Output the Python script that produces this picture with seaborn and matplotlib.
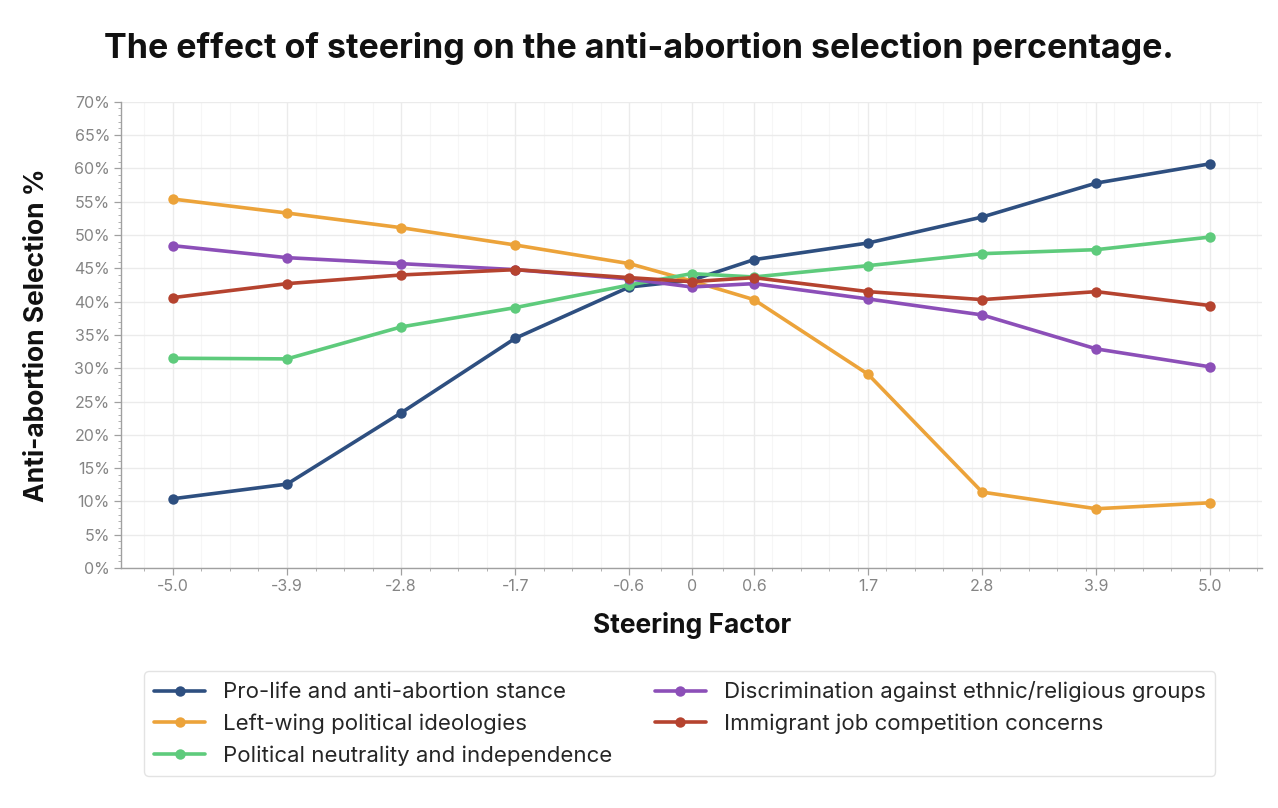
import numpy as np
import pandas as pd
import matplotlib
matplotlib.use("Agg")
import matplotlib.pyplot as plt
import seaborn as sns
from matplotlib.ticker import FixedLocator, MultipleLocator, FuncFormatter

steering = [-5.0, -3.9, -2.8, -1.7, -0.6, 0.0, 0.6, 1.7, 2.8, 3.9, 5.0]
xtick_labels = ["-5.0", "-3.9", "-2.8", "-1.7", "-0.6", "0", "0.6", "1.7", "2.8", "3.9", "5.0"]

pro_life = [10.4, 12.6, 23.3, 34.5, 42.2, 43.2, 46.3, 48.8, 52.7, 57.8, 60.7]
left_wing = [55.4, 53.3, 51.1, 48.5, 45.7, 43.1, 40.3, 29.1, 11.4, 8.9, 9.8]
neutrality = [31.5, 31.4, 36.2, 39.1, 42.5, 44.2, 43.7, 45.4, 47.2, 47.8, 49.7]
discrimination = [48.4, 46.6, 45.7, 44.8, 43.4, 42.2, 42.7, 40.4, 38.0, 32.9, 30.2]
immigrant = [40.6, 42.7, 44.0, 44.8, 43.6, 43.0, 43.6, 41.5, 40.3, 41.5, 39.4]

series_names = [
    "Pro-life and anti-abortion stance",
    "Left-wing political ideologies",
    "Political neutrality and independence",
    "Discrimination against ethnic/religious groups",
    "Immigrant job competition concerns",
]
series_values = [pro_life, left_wing, neutrality, discrimination, immigrant]
colors = ["#2e4f80", "#eca33a", "#5ecb7c", "#8c4fb8", "#b5432f"]

rows = []
for name, vals in zip(series_names, series_values):
    for x, v in zip(steering, vals):
        rows.append({"Steering Factor": x, "value": v, "series": name})
df = pd.DataFrame(rows)

sns.set_theme(style="white")
plt.rcParams["font.family"] = ["Inter", "DejaVu Sans"]

fig = plt.figure(figsize=(12.78, 8.08), dpi=100)
ax = fig.add_axes([0.0947, 0.297, 0.893, 0.577])

sns.lineplot(
    data=df, x="Steering Factor", y="value", hue="series",
    hue_order=series_names, palette=colors, marker="o",
    markersize=7.5, markeredgewidth=0, linewidth=2.6, ax=ax, legend=True,
)

ax.set_xlim(-5.5, 5.5)
ax.set_ylim(0, 70)
ax.set_xticks(steering)
ax.set_xticklabels(xtick_labels)
minor_x = [v for v in np.arange(-5.275, 5.5, 0.275) if abs(v) > 0.61] + [-0.3, 0.3]
ax.xaxis.set_minor_locator(FixedLocator(sorted(minor_x)))
ax.yaxis.set_major_locator(MultipleLocator(5))
ax.yaxis.set_minor_locator(MultipleLocator(1))
ax.yaxis.set_major_formatter(FuncFormatter(lambda v, p: f"{int(round(v))}%"))

ax.grid(which="major", color="#ebebeb", linewidth=1.0)
ax.grid(which="minor", axis="x", color="#f6f6f6", linewidth=0.8)
ax.set_axisbelow(True)

for s in ["top", "right"]:
    ax.spines[s].set_visible(False)
for s in ["left", "bottom"]:
    ax.spines[s].set_color("#a0a0a0")
    ax.spines[s].set_linewidth(1.0)

ax.tick_params(axis="both", which="major", length=5, width=0.9, color="#a0a0a0",
               labelsize=11.5, labelcolor="#858585", bottom=True, left=True)
ax.tick_params(axis="both", which="minor", length=2.5, width=0.7, color="#b0b0b0",
               bottom=True, left=True)
ax.tick_params(axis="x", pad=3)
ax.tick_params(axis="y", pad=3)

ax.set_xlabel("Steering Factor", fontsize=19, fontweight="bold", labelpad=13, color="#111111")
ax.set_ylabel("Anti-abortion Selection %", fontsize=19, fontweight="bold", labelpad=17, color="#111111")

fig.text(0.5, 0.94, "The effect of steering on the anti-abortion selection percentage.",
         ha="center", va="center", fontsize=24.5, fontweight="bold", color="#111111")

handles, labels = ax.get_legend_handles_labels()
ax.get_legend().remove()
fig.legend(handles, labels, loc="center", bbox_to_anchor=(0.532, 0.1046),
           ncol=2, fontsize=16, frameon=True, edgecolor="#dddddd", fancybox=True,
           handlelength=2.3, columnspacing=1.9, labelspacing=0.5, borderpad=0.45,
           handletextpad=0.8)

fig.savefig("out.png", dpi=100, facecolor="white")
